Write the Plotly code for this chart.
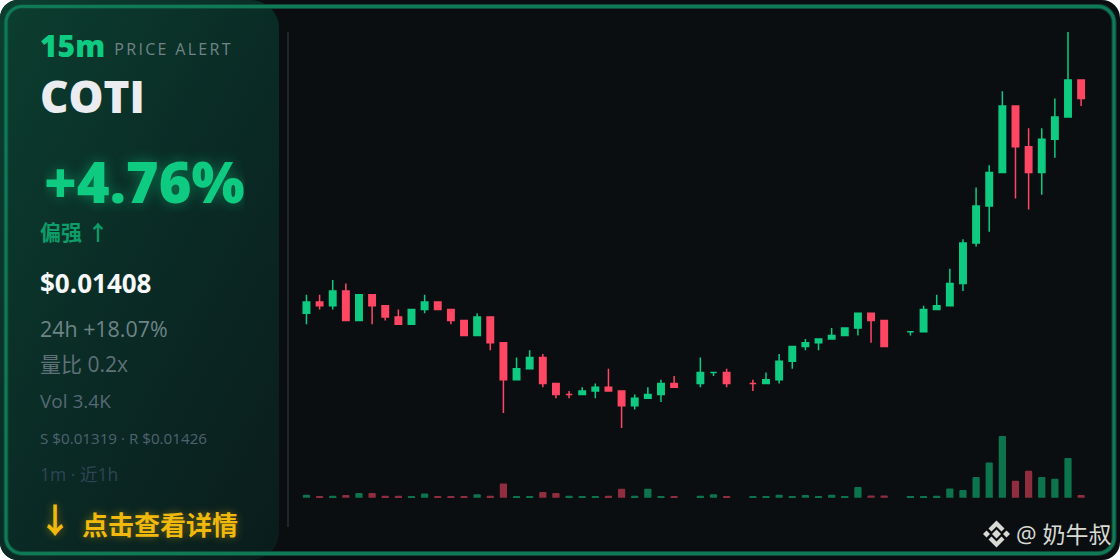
import base64

import plotly.graph_objects as go

W, H = 1120, 560

opens = [0.01350, 0.01353, 0.01352, 0.01356, 0.01348, 0.01355, 0.01352, 0.01349, 0.01347, 0.01351,
         0.01353, 0.01351, 0.01348, 0.01344, 0.01349, 0.01342, 0.01332, 0.01335, 0.01338, 0.01331,
         0.01328, 0.01328, 0.01329, 0.01330, 0.01329, 0.01325, 0.01327, 0.01328, 0.01331, None,
         0.01331, 0.01334, 0.01334, None, 0.01331, 0.01331, 0.01332, 0.01337, 0.01341, 0.01342,
         0.01343, 0.01344, 0.01346, 0.01350, 0.01348, None, 0.01345, 0.01345, 0.01351, 0.01352,
         0.01358, 0.01369, 0.01379, 0.01388, 0.01406, 0.01395, 0.01388, 0.01397, 0.01403, 0.01413]
highs = [0.01355, 0.01355, 0.01359, 0.01358, 0.01355, 0.01355, 0.01352, 0.01351, 0.01351, 0.01355,
         0.01353, 0.01351, 0.01348, 0.01350, 0.01349, 0.01342, 0.01338, 0.01340, 0.01339, 0.01331,
         0.01329, 0.01330, 0.01331, 0.01335, 0.01329, 0.01328, 0.01330, 0.01332, 0.01333, None,
         0.01338, 0.01334, 0.01335, None, 0.01332, 0.01334, 0.01339, 0.01341, 0.01343, 0.01343,
         0.01346, 0.01346, 0.01350, 0.01350, 0.01348, None, 0.01345, 0.01352, 0.01355, 0.01362,
         0.01370, 0.01384, 0.01390, 0.01410, 0.01406, 0.01400, 0.01400, 0.01408, 0.01426, 0.01413]
lows = [0.01347, 0.01351, 0.01351, 0.01348, 0.01348, 0.01347, 0.01348, 0.01347, 0.01347, 0.01350,
        0.01351, 0.01347, 0.01344, 0.01344, 0.01340, 0.01323, 0.01332, 0.01335, 0.01330, 0.01327,
        0.01327, 0.01328, 0.01327, 0.01329, 0.01319, 0.01324, 0.01327, 0.01326, 0.01330, None,
        0.01330, 0.01333, 0.01330, None, 0.01329, 0.01331, 0.01331, 0.01335, 0.01340, 0.01340,
        0.01343, 0.01344, 0.01344, 0.01342, 0.01341, None, 0.01344, 0.01345, 0.01351, 0.01352,
        0.01356, 0.01368, 0.01372, 0.01388, 0.01381, 0.01378, 0.01382, 0.01392, 0.01403, 0.01406]
closes = [0.01353, 0.01352, 0.01356, 0.01348, 0.01355, 0.01352, 0.01349, 0.01347, 0.01351, 0.01353,
          0.01351, 0.01348, 0.01344, 0.01349, 0.01342, 0.01332, 0.01335, 0.01338, 0.01331, 0.01328,
          0.01328, 0.01329, 0.01330, 0.01329, 0.01325, 0.01327, 0.01328, 0.01331, 0.01330, None,
          0.01334, 0.01334, 0.01331, None, 0.01331, 0.01332, 0.01337, 0.01341, 0.01342, 0.01343,
          0.01344, 0.01346, 0.01350, 0.01348, 0.01341, None, 0.01345, 0.01351, 0.01352, 0.01358,
          0.01369, 0.01379, 0.01388, 0.01406, 0.01395, 0.01388, 0.01397, 0.01403, 0.01413, 0.01408]
# volume in K
volumes = [3.8, 2.1, 2.5, 3.4, 5.9, 5.9, 2.5, 2.5, 1.3, 5.4,
           1.3, 1.3, 1.3, 4.2, 2.5, 18.0, 1.3, 1.3, 7.2, 5.9,
           2.5, 1.3, 1.3, 2.5, 11.3, 2.5, 11.3, 1.3, 1.3, None,
           2.5, 4.2, 1.3, None, 2.0, 1.6, 3.8, 1.9, 3.4, 1.3,
           3.8, 0.9, 13.5, 2.9, 2.9, None, 0.9, 1.3, 2.5, 11.7,
           9.7, 26.1, 44.5, 77.7, 21.4, 34.0, 26.1, 23.9, 50.0, 3.4]
candle_index = list(range(len(closes)))

GREEN = "#0ecb81"
RED = "#ff4764"
GOLD = "#f0b90b"
FONT = "Open Sans, Noto Sans CJK SC, sans-serif"

# card background: rounded card, side panel, border, watermark logo
background = f"""<svg xmlns="http://www.w3.org/2000/svg" width="{W}" height="{H}" viewBox="0 0 {W} {H}">
<defs>
<linearGradient id="panel" x1="0" y1="0" x2="1" y2="1">
<stop offset="0" stop-color="#0c4030"/><stop offset="0.55" stop-color="#0a2a25"/><stop offset="1" stop-color="#0a1c1c"/>
</linearGradient>
<clipPath id="card"><rect width="{W}" height="{H}" rx="18"/></clipPath>
</defs>
<g clip-path="url(#card)">
<rect width="{W}" height="{H}" fill="#0a0e11"/>
<rect x="-30" y="0" width="309" height="{H}" rx="28" fill="url(#panel)"/>
<rect x="6" y="6.5" width="1108" height="547" rx="16" fill="none" stroke="#0d4a37" stroke-width="5"/>
<rect x="6" y="6.5" width="1108" height="547" rx="16" fill="none" stroke="#0f7a55" stroke-width="3"/>
<rect x="287" y="32" width="2" height="495" fill="#1f2529"/>
<g fill="#d8dad4" transform="translate(996.5 534)">
<path d="M0 -4.5 L4.5 0 L0 4.5 L-4.5 0 Z"/>
<path d="M-13.5 0 L-10 -3.5 L-6.5 0 L-10 3.5 Z"/>
<path d="M13.5 0 L10 -3.5 L6.5 0 L10 3.5 Z"/>
<path d="M0 -13.5 L8 -5.5 L5 -2.5 L0 -7.5 L-5 -2.5 L-8 -5.5 Z"/>
<path d="M0 13.5 L8 5.5 L5 2.5 L0 7.5 L-5 2.5 L-8 5.5 Z"/>
</g>
</g>
</svg>"""
background_uri = "data:image/svg+xml;base64," + base64.b64encode(background.encode()).decode()


def label(text, x, y, size, color, weight=400, shadow=None):
    font = dict(family=FONT, size=size, color=color, weight=weight)
    if shadow:
        font["shadow"] = shadow
    return dict(text=text, x=x / W, y=1 - y / H, xref="paper", yref="paper",
                xanchor="left", yanchor="middle", showarrow=False, font=font,
                borderpad=0, borderwidth=0)


annotations = [
    label("15m", 40, 45, 30, GREEN, 800),
    label("PRICE ALERT", 127, 49, 16, "#6f8487"),
    label("COTI", 40, 96, 44, "#eaecef", 800),
    label("+4.76%", 44, 181, 56, GREEN, 800, "0 0 14px rgba(14,203,129,0.45)"),
    label("偏强 ↑", 40, 232, 21, "#0c9d68", 700),
    label("$0.01408", 40, 283, 26, "#f6f7f8", 700),
    label("24h +18.07%", 40, 328, 21.4, "#6f8487"),
    label("量比 0.2x", 40, 364, 21, "#5f7077"),
    label("Vol 3.4K", 40, 401, 19, "#566873"),
    label("S $0.01319 · R $0.01426", 40, 438, 15.2, "#4f6270"),
    label("1m · 近1h", 40, 474, 17.5, "#2f4553"),
    label("↓", 38, 520, 34, GOLD, 700, "0 0 8px rgba(240,185,11,0.45)"),
    label("点击查看详情", 82, 525, 26, GOLD, 700, "0 0 8px rgba(240,185,11,0.45)"),
    label("@ 奶牛叔", 1016, 534, 23, "#d8dad4"),
]
# the big figure's box is far taller than its glyphs
annotations[3]["height"] = 62

fig = go.Figure()

bar_colors = [GREEN if c is not None and c >= o else RED if c is not None else GREEN
              for o, c in zip(opens, closes)]
fig.add_trace(go.Bar(x=candle_index, y=volumes, marker=dict(color=bar_colors, line_width=0, opacity=0.55),
                     width=0.55, yaxis="y2", showlegend=False))
fig.add_trace(go.Candlestick(
    x=candle_index, open=opens, high=highs, low=lows, close=closes, whiskerwidth=0,
    increasing=dict(line=dict(color=GREEN, width=1.5), fillcolor=GREEN),
    decreasing=dict(line=dict(color=RED, width=1.5), fillcolor=RED),
    showlegend=False,
))

fig.update_layout(
    width=W, height=H,
    margin=dict(l=0, r=0, t=0, b=0),
    paper_bgcolor="#ffffff", plot_bgcolor="rgba(0,0,0,0)",
    showlegend=False, boxgap=0.3, barcornerradius=1,
    xaxis=dict(range=[-23.34, 61.96], visible=False, rangeslider=dict(visible=False), domain=[0, 1]),
    yaxis=dict(range=[0.012833, 0.0143465], visible=False, domain=[0, 1]),
    yaxis2=dict(range=[-78.5, 627.1], visible=False, overlaying="y", domain=[0, 1]),
    annotations=annotations,
    images=[dict(source=background_uri, xref="paper", yref="paper", x=0, y=1, sizex=1, sizey=1,
                 xanchor="left", yanchor="top", sizing="stretch", layer="below")],
)

# page margin off, plus the letter spacing annotations have no option for
post_script = """
document.body.style.margin = '0';
document.body.style.overflow = 'hidden';
document.querySelectorAll('.annotation-text').forEach(function (t) {
    if (t.textContent === 'PRICE ALERT') { t.style.letterSpacing = '2.3px'; }
});
"""
fig.write_html("out.html", post_script=post_script, config=dict(displayModeBar=False))
